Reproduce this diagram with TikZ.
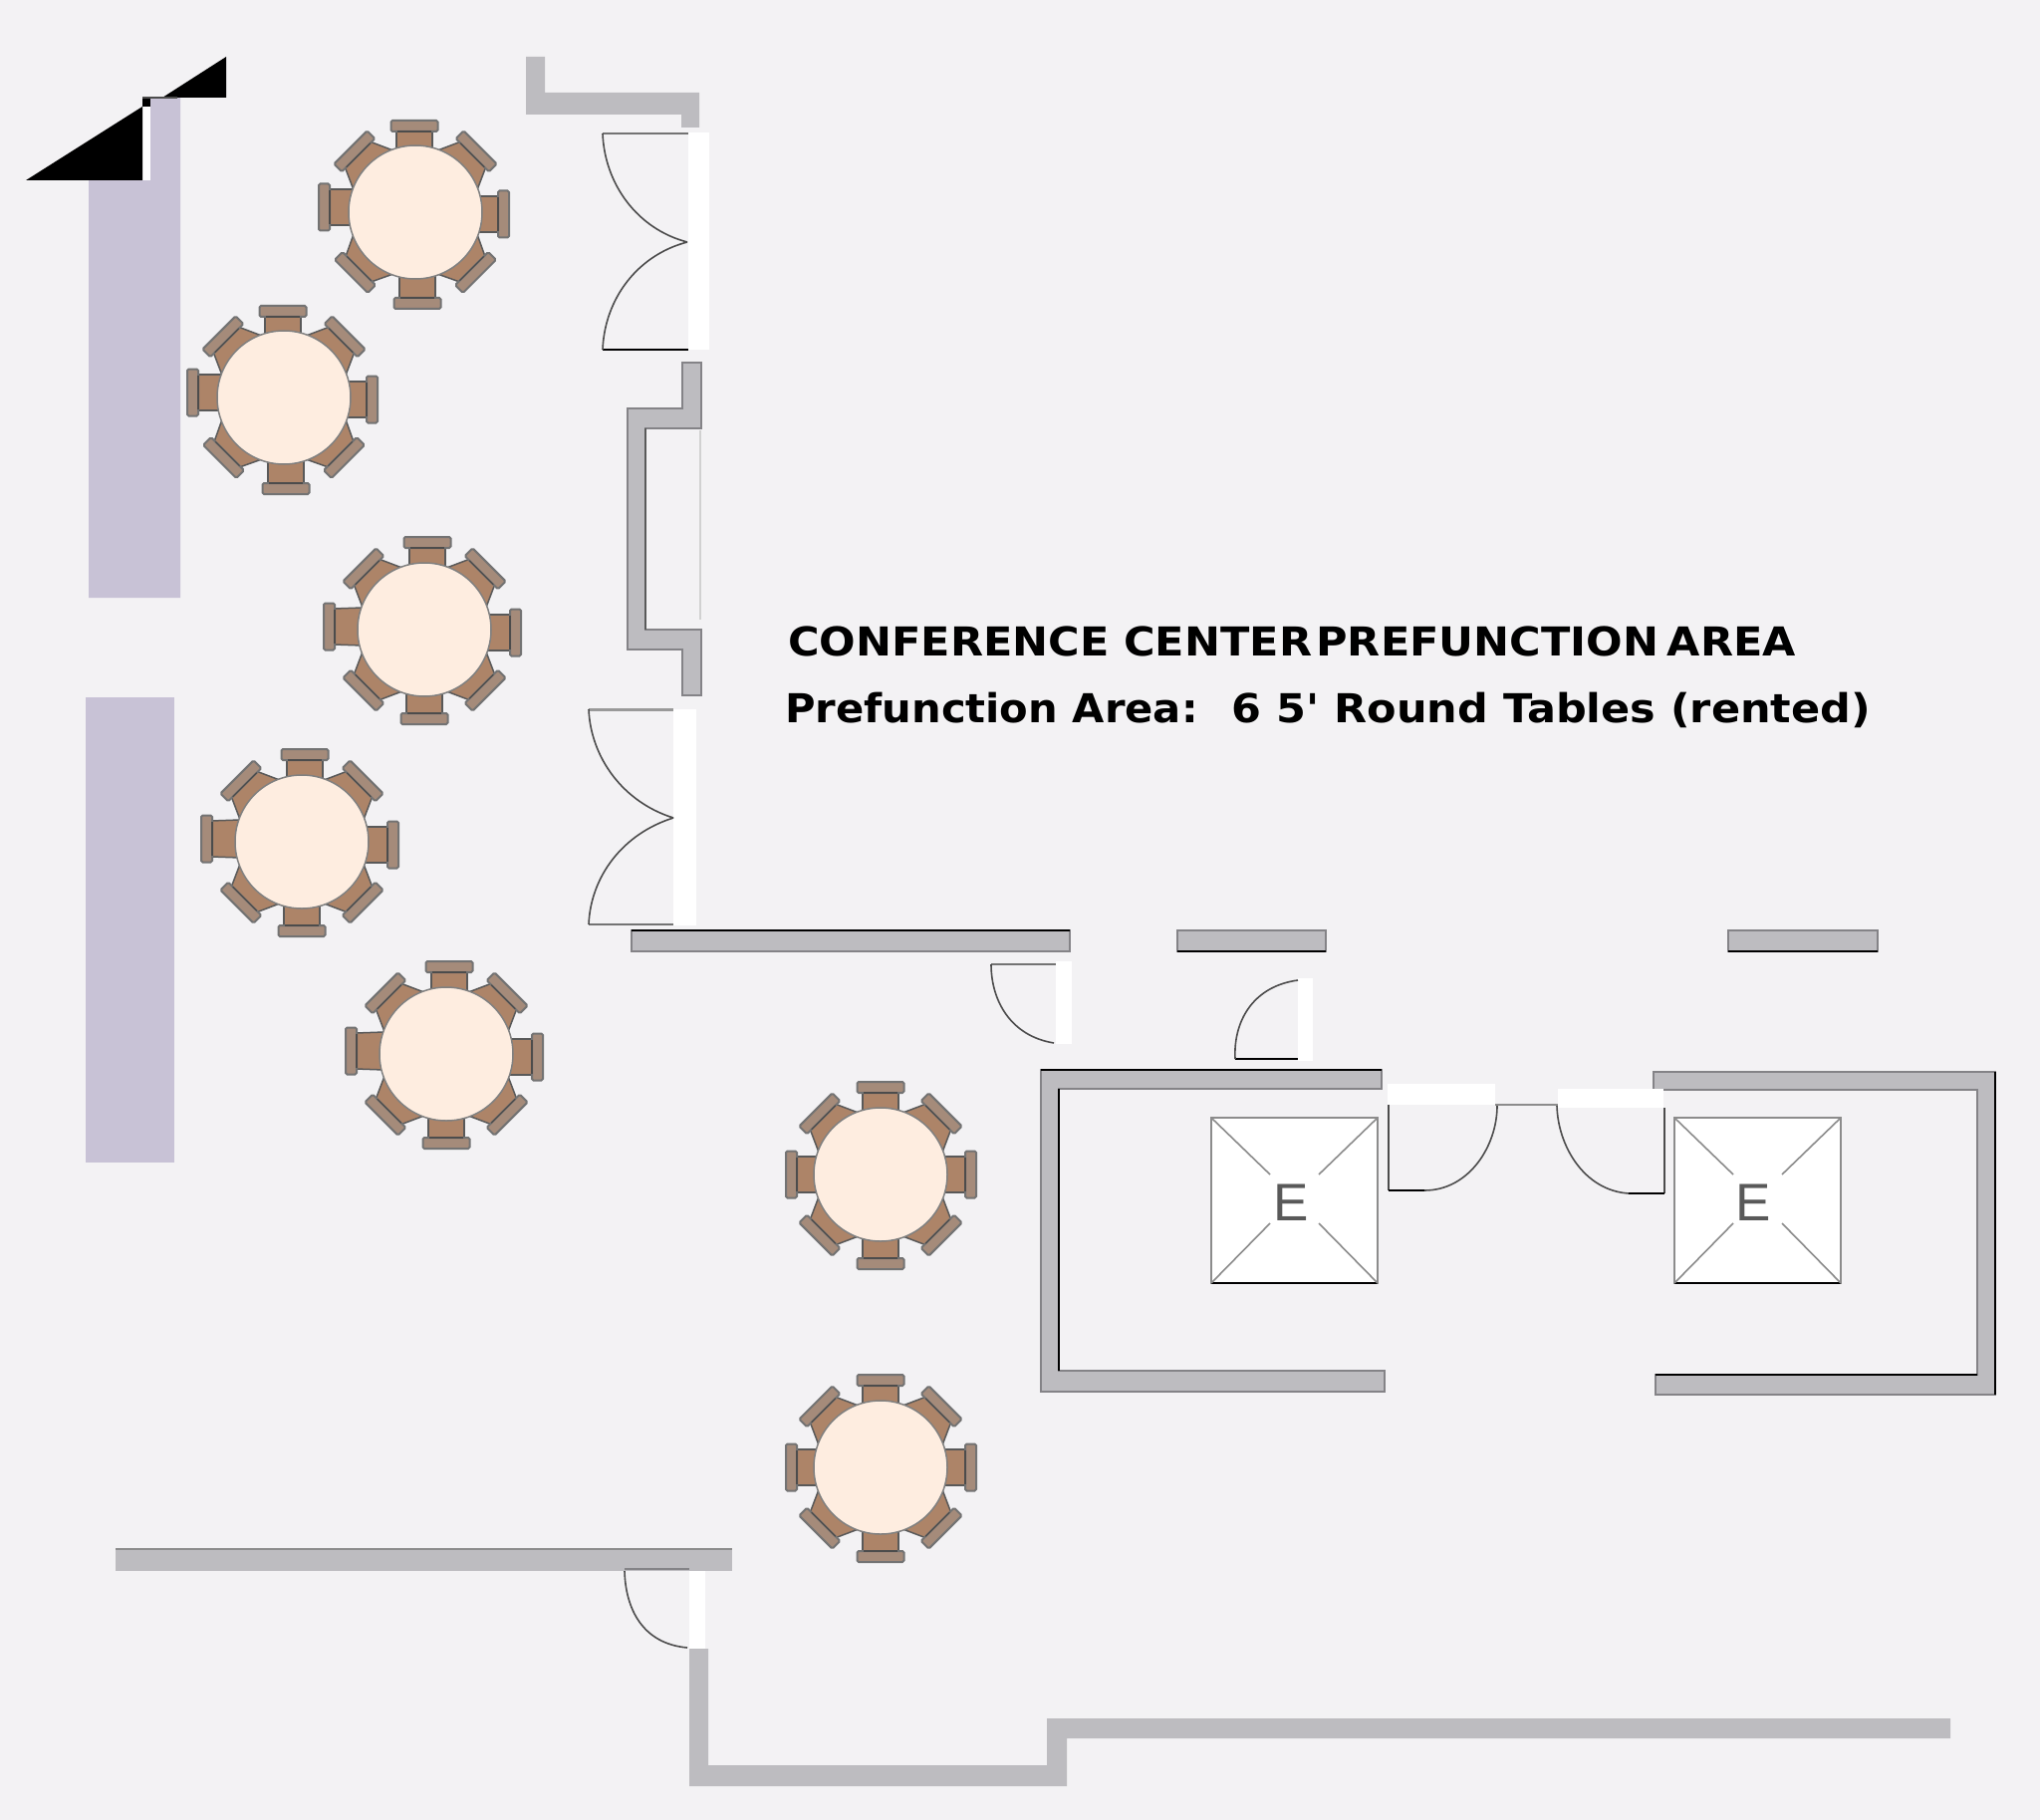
\documentclass[tikz,border=0pt]{standalone}
\usepackage{fontspec}
\setmainfont{DejaVu Sans}
\newfontfamily\tfont{DejaVu Sans}
\newfontfamily\efont{Liberation Sans}
\definecolor{bgc}{HTML}{F3F2F4}
\definecolor{wallc}{HTML}{BDBCC0}
\definecolor{walle}{HTML}{848387}
\definecolor{purp}{HTML}{C8C2D6}
\definecolor{tabc}{HTML}{FEEDE0}
\definecolor{seatc}{HTML}{AD8468}
\definecolor{backc}{HTML}{A58B7A}
\tikzset{
 wallp/.style={fill=wallc,draw=walle,line width=2.5pt,line join=miter},
 wallq/.style={fill=wallc,draw=none},
 doorw/.style={fill=white,draw=none},
 doorl/.style={draw=black!70,line width=1.6pt},
 tabletop/.style={circle,fill=tabc,draw=black!50,line width=1.5pt,minimum size=134pt,inner sep=0pt},
 elev/.style={fill=white,draw=black!45,line width=2pt},
 elevd/.style={draw=black!45,line width=1.6pt},
 etext/.style={font=\efont\fontsize{53}{53}\selectfont,text=black!65,inner sep=0pt},
 titletext/.style={anchor=base west,inner sep=0pt,font=\tfont\bfseries\fontsize{40}{42}\selectfont,text=black}
}
\newcommand{\onechair}[2]{%
 \path[fill=seatc,draw=black!65,line width=1.5pt] (-#2,62) -- (-18,#1-10) -- (18,#1-10) -- (#2,62) -- cycle;
 \path[fill=backc,draw=black!55,line width=2pt,rounded corners=1.5pt] (-23.5,#1-11) rectangle (23.5,#1);
 \draw[draw=black!70,line width=1.2pt] (-17,#1-11) -- (17,#1-11);
}
\newcommand{\roundtable}[4]{%
 \begin{scope}[shift={(#2,#3)}]
 \foreach \chA/\chT/\chR/\chW in #4 {\begin{scope}[rotate=\chA,shift={(\chT,0)}]\onechair{\chR}{\chW}\end{scope}}
 \end{scope}
 \node[tabletop] (#1) at (#2,#3) {};
}
\newcommand{\patA}{0/2/97/18,45/0/91/27,90/-2/94/18,135/0/92/27,180/1/92/18,225/0/92/27,270/-5/97/18,315/0/91/27}
\newcommand{\patB}{0/0/95/18,45/0/92/27,90/-3/97/18,135/0/92/27,180/-3/93/18,225/0/92/27,270/-3/101/19,315/0/92/27}
\newcommand{\patC}{0/0/95/18,45/0/92/27,90/0/96/18,135/0/92/27,180/0/93/18,225/0/92/27,270/0/95/18,315/0/92/27}
\newcommand{\elevator}[4]{%
 \draw[elev] (#2,1122) rectangle (#3,1288);
 \draw[draw=black,line width=2.5pt] (#2,1288) -- (#3,1288);
 \draw[elevd] (#2,1122) -- (#2+59,1179) (#3,1122) -- (#3-59,1179) (#2,1288) -- (#2+59,1228) (#3,1288) -- (#3-59,1228);
 \node[etext] (#1) at (#4,1207) {E};
}
\begin{document}
\begin{tikzpicture}[x=1pt,y=-1pt]
\path[use as bounding box,fill=bgc] (0,0) rectangle (2048,1827);
% purple tables
\fill[purp] (151,98) rectangle (181,180) (89,180) rectangle (181,600);
\fill[purp] (86,700) rectangle (175,1167);
\fill[white] (143,107) rectangle (151,181);
\fill[black] (26,181) -- (143,107) -- (143,181) -- cycle;
\fill[black] (163,98) -- (227,57) -- (227,98) -- cycle;
\fill[black] (143,97) rectangle (151,107);
\fill[black!70] (143,97) rectangle (178,99);
% top wall
\fill[wallq] (528,57) -- (547,57) -- (547,93) -- (702,93) -- (702,128) -- (684,128) -- (684,115) -- (528,115) -- cycle;
% door 1
\fill[doorw] (691,133) rectangle (712,351);
\draw[doorl,draw=black!55] (605,134) -- (691,134);
\draw[doorl,draw=black] (605,351) -- (691,351);
\draw[doorl] (605,134) .. controls (607,185) and (640,230) .. (690,243);
\draw[doorl] (605,351) .. controls (607,300) and (640,256) .. (690,243);
% wall 2
\draw[wallp] (685,364) -- (704,364) -- (704,430) -- (648,430) -- (648,632) -- (704,632) -- (704,698) -- (685,698) -- (685,652) -- (630,652) -- (630,410) -- (685,410) -- cycle;
\draw[draw=black!18,line width=2pt] (703,432) -- (703,622);
\draw[draw=black!65,line width=2pt] (648,430) -- (648,632);
% door 2
\fill[doorw] (676,712) rectangle (699,929);
\draw[doorl,draw=black!40,line width=3pt] (591,712) -- (676,712);
\draw[doorl,draw=black!55] (591,928) -- (676,928);
\draw[doorl] (591,712) .. controls (593,760) and (625,805) .. (676,821);
\draw[doorl] (591,928) .. controls (593,880) and (625,837) .. (676,821);
% horizontal walls
\draw[wallp] (634,934) rectangle (1074,955);
\draw[draw=black,line width=2.5pt] (634,934) -- (1074,934);
\draw[wallp] (1182,934) rectangle (1331,955);
\draw[draw=black,line width=2.5pt] (1182,955) -- (1331,955);
\draw[wallp] (1735,934) rectangle (1885,955);
\draw[draw=black,line width=2.5pt] (1735,955) -- (1885,955);
% door 3
\fill[doorw] (1060,965) rectangle (1076,1048);
\draw[doorl,draw=black!55] (995,968) -- (1060,968);
\draw[doorl] (995,968) .. controls (995,1005) and (1015,1040) .. (1058,1047);
% door 4
\fill[doorw] (1303,982) rectangle (1318,1065);
\draw[doorl,draw=black] (1240,1063) -- (1303,1063);
\draw[doorl] (1240,1063) .. controls (1238,1025) and (1258,990) .. (1303,984);
% left room
\draw[wallp] (1387,1074) -- (1045,1074) -- (1045,1397) -- (1390,1397) -- (1390,1376) -- (1063,1376) -- (1063,1093) -- (1387,1093) -- cycle;
\draw[draw=black,line width=2.5pt] (1045,1074) -- (1387,1074);
\draw[draw=black,line width=2pt] (1063,1093) -- (1063,1376);
% right room
\draw[wallp] (1660,1076) -- (2003,1076) -- (2003,1400) -- (1662,1400) -- (1662,1380) -- (1985,1380) -- (1985,1094) -- (1660,1094) -- cycle;
\draw[draw=black,line width=2.5pt] (2003,1076) -- (2003,1400);
\draw[draw=black,line width=2.5pt] (1662,1380) -- (1985,1380);
% centre doors
\fill[doorw] (1393,1088) rectangle (1501,1109);
\fill[doorw] (1564,1093) rectangle (1670,1112);
\draw[draw=black!45,line width=2pt] (1501,1109) -- (1564,1109);
\draw[doorl] (1394,1109) -- (1394,1195);
\draw[doorl,draw=black,line width=2.5pt] (1394,1195) -- (1430,1195);
\draw[doorl] (1430,1195) .. controls (1475,1195) and (1503,1150) .. (1503,1110);
\draw[doorl] (1671,1112) -- (1671,1198);
\draw[doorl,draw=black,line width=2.5pt] (1671,1198) -- (1635,1198);
\draw[doorl] (1635,1198) .. controls (1590,1195) and (1564,1150) .. (1563,1110);
% elevators
\elevator{e1}{1216}{1383}{1296}
\elevator{e2}{1681}{1848}{1760}
% bottom walls
\fill[wallq] (116,1554) rectangle (735,1577);
\draw[draw=black!45,line width=1.5pt] (116,1555) -- (735,1555);
\fill[wallq] (692,1655) -- (711,1655) -- (711,1772) -- (1051,1772) -- (1051,1725) -- (1958,1725) -- (1958,1745) -- (1071,1745) -- (1071,1793) -- (692,1793) -- cycle;
\fill[doorw] (692,1577) rectangle (708,1655);
\draw[doorl,draw=walle] (627,1575) -- (692,1575);
\draw[doorl] (627,1577) .. controls (628,1615) and (645,1650) .. (690,1654);
% tables
\roundtable{t1}{417}{213}{\patA}
\roundtable{t2}{285}{399}{\patA}
\roundtable{t3}{426}{632}{\patB}
\roundtable{t4}{303}{845}{\patB}
\roundtable{t5}{448}{1058}{\patB}
\roundtable{t6}{884}{1179}{\patC}
\roundtable{t7}{884}{1473}{\patC}
% text
\node[titletext] (title) at (791,658) {\scalebox{1.075}[1]{CONFERENCE CENTER\hspace{4pt}PREFUNCTION\hspace{8pt}AREA}};
\node[titletext] (sub) at (788,725) {\scalebox{1.042}[1]{Prefunction Area:}\hspace{34pt}\scalebox{1.075}[1]{6 5' Round Tables (rented)}};
\end{tikzpicture}
\end{document}
